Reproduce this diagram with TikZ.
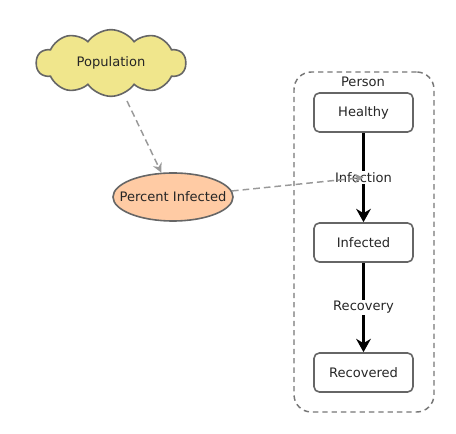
\documentclass[tikz,border=0pt]{standalone}
\usepackage{fontspec}
\setmainfont{DejaVu Sans}
\usetikzlibrary{shapes.symbols,shapes.geometric,arrows.meta}
\definecolor{khaki}{HTML}{F0E68C}
\definecolor{peach}{HTML}{FFCBA4}
\definecolor{edgegray}{HTML}{666666}
\definecolor{dashgray}{HTML}{999999}
\definecolor{boxgray}{HTML}{777777}
\begin{document}
\begin{tikzpicture}[x=0.75pt,y=-0.75pt,
  every node/.style={font=\fontsize{9.8}{11}\selectfont, text=black!85},
  statebox/.style={draw=edgegray, line width=1.2pt, rounded corners=4pt, fill=white, minimum width=74.25pt, minimum height=29.25pt, inner sep=0pt},
  flow/.style={line width=2.7pt, -{Stealth[length=10pt,width=11pt]}},
  link/.style={draw=dashgray, dashed, line width=1.1pt, dash pattern=on 5pt off 3pt, -{Stealth[length=7pt,width=7pt]}},
  edgelabel/.style={fill=white, inner sep=1pt}
]
\useasboundingbox (0,0) rectangle (456,434);
% container
\node[draw=boxgray, dashed, dash pattern=on 4pt off 3pt, line width=1.1pt, rounded corners=13pt, minimum width=105pt, minimum height=255pt, inner sep=0pt] (person) at (364,242) {};
\node[anchor=north, inner sep=1pt] (personlbl) at (363,75) {Person};
% states
\node[statebox] (healthy) at (363.5,112.5) {Healthy};
\node[statebox] (infected) at (363.5,242.5) {Infected};
\node[statebox] (recovered) at (363.5,372.5) {Recovered};
\draw[flow] (healthy) -- node[edgelabel] (infection) {Infection} (infected);
\draw[flow] (infected) -- node[edgelabel] (recovery) {Recovery} (recovered);
% population cloud
\node[cloud, cloud puffs=10, cloud puff arc=110, aspect=2.2, draw=edgegray, line width=1.2pt, fill=khaki, minimum width=112pt, minimum height=50pt, inner sep=0pt] (population) at (111,63) {\makebox[0pt]{Population}};
% percent infected
\node[ellipse, draw=edgegray, line width=1.2pt, fill=peach, minimum width=90pt, minimum height=36pt, inner sep=0pt] (percent) at (173,197) {\makebox[0pt]{Percent Infected}};
% dashed links
\draw[link] (127,101) -- (percent);
\draw[link] (percent) -- (infection.center);
\end{tikzpicture}
\end{document}
